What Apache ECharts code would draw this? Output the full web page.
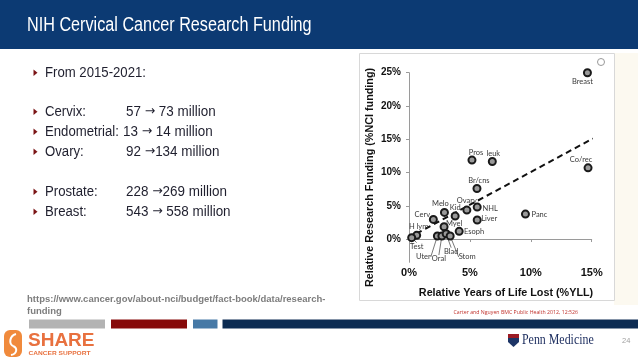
<!DOCTYPE html>
<html><head><meta charset="utf-8">
<script src="https://cdn.jsdelivr.net/npm/echarts@6/dist/echarts.min.js"></script>
<style>html,body{margin:0;padding:0;background:#fff}#c{width:638px;height:359px}</style>
</head><body><div id="c"></div>
<script>
// ---- data ----
const cancerNames = ['Breast','Co/rec','Pros','leuk','Br/cns','Ovary','NHL','Kid','Melo','Cerv','Liver','Panc','Myel','Esoph','H lym','Test','Uter','Oral','Blad','Stom'];
const yllPct      = [14.65,14.7,5.17,6.84,5.58,4.75,5.6,3.79,2.91,2.0,5.6,9.56,2.88,4.12,0.63,0.22,2.33,2.7,3.05,3.38];
const fundingPct  = [25.0,10.7,11.86,11.66,7.6,4.35,4.8,3.45,4.0,2.95,2.85,3.75,1.85,1.15,0.55,0.2,0.45,0.45,0.8,0.45];
const trendX = [0.6, 15.1];
const trendY = [0.8, 15.1];
const xTicks = [0, 5, 10, 15];
const yTicks = [0, 5, 10, 15, 20, 25];
const bulletLabels = ['From 2015-2021:', 'Cervix:', 'Endometrial:', 'Ovary:', 'Prostate:', 'Breast:'];
const bulletValues = ['', '57 {a|\u2192} 73 million', '13 {a|\u2192} 14 million', '92 {a|\u2192}134 million', '228 {a|\u2192}269 million', '543 {a|\u2192} 558 million'];
const slideTitle = 'NIH Cervical Cancer Research Funding';
const sourceLines = ['https://www.cancer.gov/about-nci/budget/fact-book/data/research-', 'funding'];
const citation = 'Carter and Nguyen BMC Public Health 2012, 12:526';
const xTitle = 'Relative Years of Life Lost (%YLL)';
const yTitle = 'Relative Research Funding (%NCI funding)';

// ---- layout (label placement, px offsets from dot centre) ----
const labelOffsets = {'Breast':[-5,9],'Co/rec':[-7,-8],'Pros':[4,-8],'leuk':[1,-8],'Br/cns':[2,-8],'Ovary':[0,-9],
  'NHL':[13,1],'Kid':[0,-8],'Melo':[-4,-9],'Cerv':[-11,-5],'Liver':[12,-1],'Panc':[14,1],'Myel':[10,-3],
  'Esoph':[15,0],'H lym':[2,-9],'Test':[5,9],'Uter':[-14,21],'Oral':[-3,23],'Blad':[5,18],'Stom':[17,21]};
const leaderNames = ['Test','Uter','Oral','Blad','Stom'];
const bulletY = [72.7, 111.7, 131.7, 151.7, 191.7, 211.7];
const valueX = [0, 126, 123, 126, 126, 126];

const SANS = '"Liberation Sans", Arial, sans-serif';

const chart = echarts.init(document.getElementById('c'), null, {renderer: 'canvas'});

function txt(text, x, y, font, fill, opts) {
  opts = opts || {};
  const el = {type:'text', z:5, x:x, y:y, scaleX: opts.sx || 1, rotation: opts.rot || 0,
    style:{text:text, x:0, y:0, fill:fill, font:font, align: opts.align || 'left', verticalAlign:'middle'}};
  if (opts.rich) el.style.rich = opts.rich;
  return el;
}
const arrowRich = {a: {fontFamily: '"DejaVu Sans", sans-serif', fontSize: 13, fill: '#1f1f2e', verticalAlign: 'middle'}};

const graphics = [
  {type:'rect', z:-10, shape:{x:0,y:0,width:638,height:49}, style:{fill:'#0c3a73'}},
  txt(slideTitle, 27, 25.5, '20px ' + SANS, '#ffffff', {sx: 0.81}),
  {type:'rect', z:-10, shape:{x:614,y:53,width:24,height:252}, style:{fill:'#fcf9f0'}},
  {type:'rect', z:-9, shape:{x:359.5,y:53.5,width:255,height:247}, style:{fill:'#fff', stroke:'#d8d8d8', lineWidth:1}},
  {type:'circle', z:5, shape:{cx:601,cy:62,r:3.5}, style:{fill:'none', stroke:'#999', lineWidth:1}},
  txt(xTitle, 506, 292.5, 'bold 11px ' + SANS, '#111', {align:'center', sx: 0.98}),
  txt(yTitle, 370, 177.5, 'bold 11px ' + SANS, '#111', {align:'center', rot: Math.PI/2, sx: 0.98}),
  txt(citation, 578, 312.5, '6px "Open Sans", sans-serif', '#c0302a', {align:'right', sx: 0.87}),
  txt(sourceLines[0], 27, 299, 'bold 9.5px ' + SANS, '#7d7d7d'),
  txt(sourceLines[1], 27, 311, 'bold 9.5px ' + SANS, '#7d7d7d'),
  {type:'rect', shape:{x:29,y:319.5,width:76,height:9}, style:{fill:'#b3b3b3'}},
  {type:'rect', shape:{x:111,y:319.5,width:76,height:9}, style:{fill:'#870a0a'}},
  {type:'rect', shape:{x:193,y:319.5,width:24.5,height:9}, style:{fill:'#4679a6'}},
  {type:'rect', shape:{x:222.5,y:319.5,width:416,height:9}, style:{fill:'#0c2b52'}},
  {type:'rect', shape:{x:4,y:330,width:18,height:27,r:6}, style:{fill:'#f08a3c'}},
  {type:'bezierCurve', shape:{x1:16,y1:334,cpx1:9,cpy1:336,cpx2:9,cpy2:344,x2:13,y2:346}, style:{fill:'none', stroke:'#fff', lineWidth:2}},
  {type:'bezierCurve', shape:{x1:13,y1:346,cpx1:18,cpy1:348,cpx2:17,cpy2:354,x2:11,y2:355}, style:{fill:'none', stroke:'#fff', lineWidth:2}},
  txt('SHARE', 28, 341, '900 19px ' + SANS, '#e8713f'),
  txt('CANCER SUPPORT', 28.5, 353, 'bold 6px ' + SANS, '#e8713f', {sx: 1.1}),
  {type:'polygon', shape:{points:[[508,334],[519,334],[519,342],[513.5,347],[508,342]]}, style:{fill:'#1d3566'}},
  {type:'rect', shape:{x:508,y:334,width:11,height:4}, style:{fill:'#9b1b24'}},
  txt('Penn Medicine', 522, 340.5, '14px "Liberation Serif", "Times New Roman", serif', '#1b2c5e', {sx: 0.85}),
  txt('24', 622, 340.5, '7.5px ' + SANS, '#a0a0a0')
];
bulletLabels.forEach((lab, i) => {
  const y = bulletY[i];
  graphics.push({type:'polygon', shape:{points:[[33.5,y-3.2],[37.5,y],[33.5,y+3.2]]}, style:{fill:'#7b1416'}});
  graphics.push(txt(lab, 45, y, '14px ' + SANS, '#1f1f2e', {sx: 0.94}));
  if (bulletValues[i]) graphics.push(txt(bulletValues[i], valueX[i], y, '14px ' + SANS, '#1f1f2e', {sx: 0.96, rich: arrowRich}));
});

const scatterData = cancerNames.map((n, i) => {
  const item = {name: n, value: [yllPct[i], fundingPct[i]]};
  if (leaderNames.indexOf(n) >= 0) item.labelLine = {show: true};
  return item;
});

chart.setOption({
  animation: false,
  backgroundColor: '#ffffff',
  grid: {left: 409, right: 46.3, top: 72.7, bottom: 96.7, containLabel: false, outerBoundsMode: 'none'},
  xAxis: {
    type: 'value', min: 0, max: 15, interval: 5,
    axisLine: {show: true, onZero: true, lineStyle: {color: '#9a9a9a', width: 1}},
    axisTick: {show: true, length: 3, lineStyle: {color: '#9a9a9a'}},
    axisLabel: {formatter: v => v + '%', margin: 11, verticalAlign: 'middle', fontWeight: 'bold', fontSize: 11, fontFamily: SANS, color: '#111'},
    splitLine: {show: false}
  },
  yAxis: {
    type: 'value', min: -3.5, max: 25,
    axisLine: {show: true, onZero: false, lineStyle: {color: '#9a9a9a', width: 1}},
    axisTick: {show: true, length: 3, customValues: yTicks, lineStyle: {color: '#9a9a9a'}},
    axisLabel: {customValues: yTicks, formatter: v => v + '%', margin: 8, fontWeight: 'bold', fontSize: 10, fontFamily: SANS, color: '#111'},
    splitLine: {show: false}
  },
  graphic: graphics,
  series: [
    {
      type: 'line', z: 2, clip: false, symbol: 'none', silent: true,
      data: trendX.map((x, i) => [x, trendY[i]]),
      lineStyle: {color: '#111', width: 2, type: [6, 4]}
    },
    {
      type: 'scatter', z: 3, symbol: 'circle', symbolSize: 7,
      data: scatterData,
      itemStyle: {color: '#9a9a9a', borderColor: '#1a1a1a', borderWidth: 2, opacity: 1},
      label: {show: true, position: 'inside', formatter: p => p.name, fontSize: 7.5, fontFamily: 'Lato, "Open Sans", sans-serif', color: '#3a3a3a'},
      labelLine: {show: false, lineStyle: {color: '#555', width: 0.8}},
      labelLayout: function (params) {
        const o = labelOffsets[cancerNames[params.dataIndex]];
        return {dx: o[0], dy: o[1], hideOverlap: false};
      }
    }
  ]
});
</script></body></html>
